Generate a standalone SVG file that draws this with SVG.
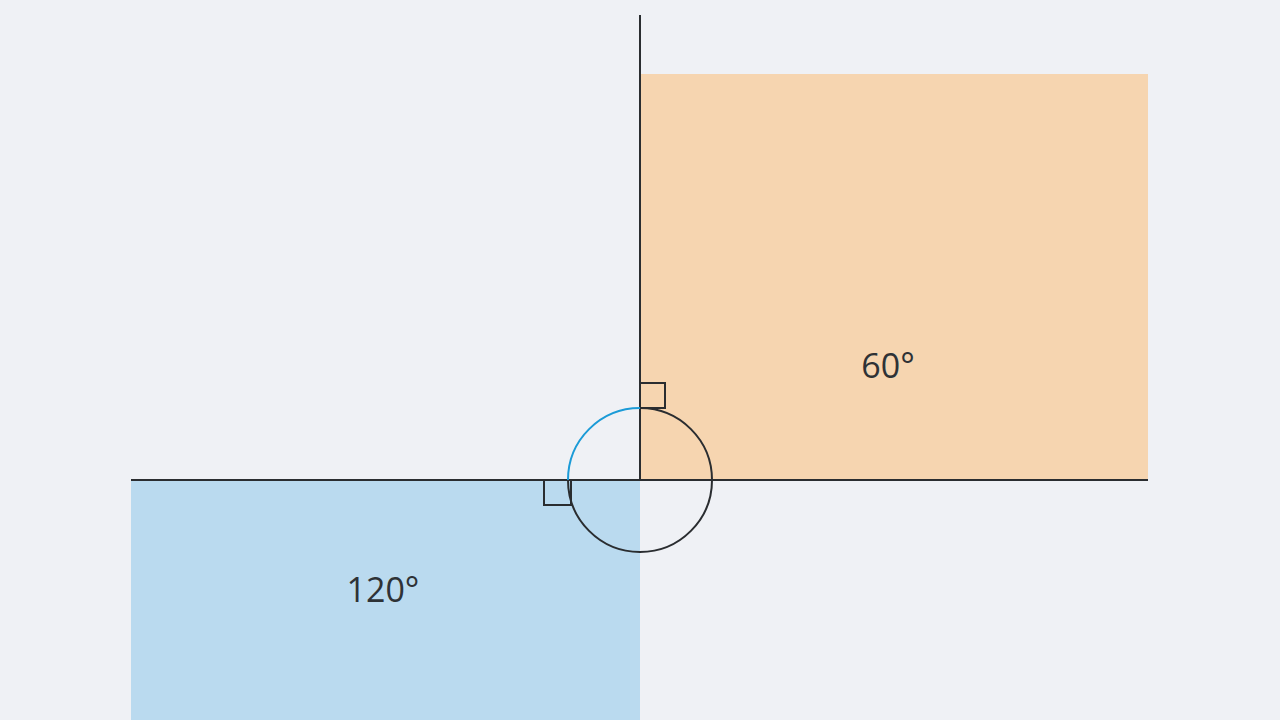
<svg xmlns="http://www.w3.org/2000/svg" width="1280" height="720" viewBox="0 0 1280 720">
<style>
.ln{stroke:#2a2d30;stroke-width:2;fill:none}
.lbl{font-family:"Open Sans","Noto Sans",sans-serif;font-size:34px;fill:#2e3236;text-anchor:middle}
</style>
<rect width="1280" height="720" fill="#eff1f5"/>
<g id="orange-region">
<rect x="640" y="74" width="508" height="406" fill="#f6d5b0"/>
<text class="lbl" x="888" y="378">60°</text>
</g>
<g id="blue-region">
<rect x="131" y="480" width="509" height="240" fill="#badaef"/>
<text class="lbl" x="383" y="602">120°</text>
</g>
<g id="right-angle-marks">
<rect x="640" y="383" width="25" height="25" fill="#f8e6d6" class="ln"/>
<rect x="544" y="480" width="27" height="25" fill="#e5e9ef" class="ln"/>
</g>
<g id="connectors">
<line class="ln" x1="640" y1="15" x2="640" y2="480"/>
<line class="ln" x1="131" y1="480" x2="1148" y2="480"/>
</g>
<g id="circle">
<path d="M640 408 A72 72 0 0 0 568 480" fill="none" stroke="#1b9bd7" stroke-width="2"/>
<path d="M568 480 A72 72 0 1 0 640 408" class="ln"/>
</g>
</svg>
